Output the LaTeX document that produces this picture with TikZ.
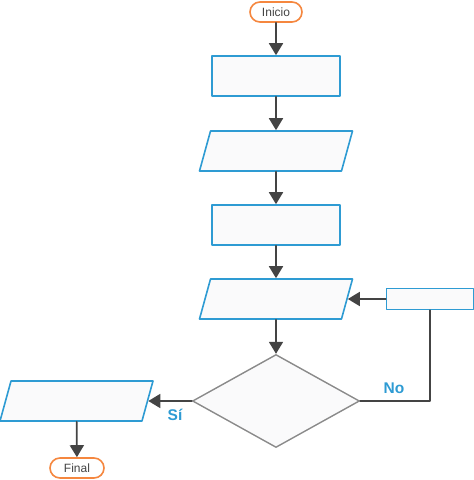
\documentclass[tikz,border=0pt]{standalone}
\usepackage{fontspec}
\setmainfont{Liberation Sans}
\usepackage{tikz}
\usetikzlibrary{arrows.meta,shapes.geometric,shapes.misc}

\definecolor{boxblue}{HTML}{2E9BD3}
\definecolor{termorange}{HTML}{F5873F}
\definecolor{linegray}{HTML}{444444}
\definecolor{diagray}{HTML}{8A8A8A}
\definecolor{fillwhite}{HTML}{FAFAFB}

\tikzset{
	terminal/.style={rounded rectangle,draw=termorange,line width=1.6pt,fill=white,minimum width=52pt,minimum height=20pt,inner sep=0pt,text=linegray,font=\fontsize{12}{14}\selectfont},
	process/.style={rectangle,draw=boxblue,line width=1.6pt,fill=fillwhite,inner sep=0pt},
	inout/.style={trapezium,trapezium left angle=74.6,trapezium right angle=105.4,trapezium stretches body=true,draw=boxblue,line width=1.6pt,fill=fillwhite,minimum width=153pt,inner xsep=2pt,inner ysep=0pt,text height=20pt,text depth=20pt},
	decision/.style={diamond,draw=diagray,line width=1.4pt,fill=fillwhite,minimum width=167pt,minimum height=93pt,inner sep=0pt,aspect=1.8},
	flow/.style={->,line width=1.8pt,draw=linegray},
	answer/.style={text=boxblue,font=\bfseries\fontsize{15.5}{17}\selectfont}
}

\begin{document}
\begin{tikzpicture}[line cap=round,line join=round,>={Triangle[width=14pt,length=12pt]},x=1pt,y=-1pt]
			\useasboundingbox (0,0) rectangle (474,480);
			%%%%%%%%%%%%%%% B O X E S %%%%%%%%%%%%%%%%
			%main column
			\node[terminal] (inicio) at (276,12) {Inicio};
			\node[process,minimum width=128pt,minimum height=40pt] (proc1) at (276,76) {};
			\node[inout] (io1) at (276,151) {};
			\node[process,minimum width=128pt,minimum height=40pt] (proc2) at (276,225) {};
			\node[inout] (io2) at (276,299) {};
			\node[decision] (cond) at (276,401) {};
			%side box
			\node[process,minimum width=87pt,minimum height=21pt] (side) at (430,299) {};
			%left column
			\node[inout] (io3) at (76.5,401) {};
			\node[terminal,minimum width=54pt] (final) at (77,468) {Final};
			%%%%%%%%%%%%%%% A R R O W S %%%%%%%%%%%%%%%%
			\draw [flow] (inicio) -- (proc1);
			\draw [flow] (proc1) -- (io1);
			\draw [flow] (io1) -- (proc2);
			\draw [flow] (proc2) -- (io2);
			\draw [flow] (io2) -- (cond);
			\draw [flow] (side.west) -- (io2.east);
			%no
			\draw [line width=1.8pt,draw=linegray] (side.south) |- (cond.east);
			%si
			\draw [flow] (cond.west) -- (io3.east);
			\draw [flow] (io3) -- (final);
			%T A G S
			\node[answer] (no) at (394,388) {No};
			\node[answer] (si) at (175,415) {Sí};
		\end{tikzpicture}
\end{document}
